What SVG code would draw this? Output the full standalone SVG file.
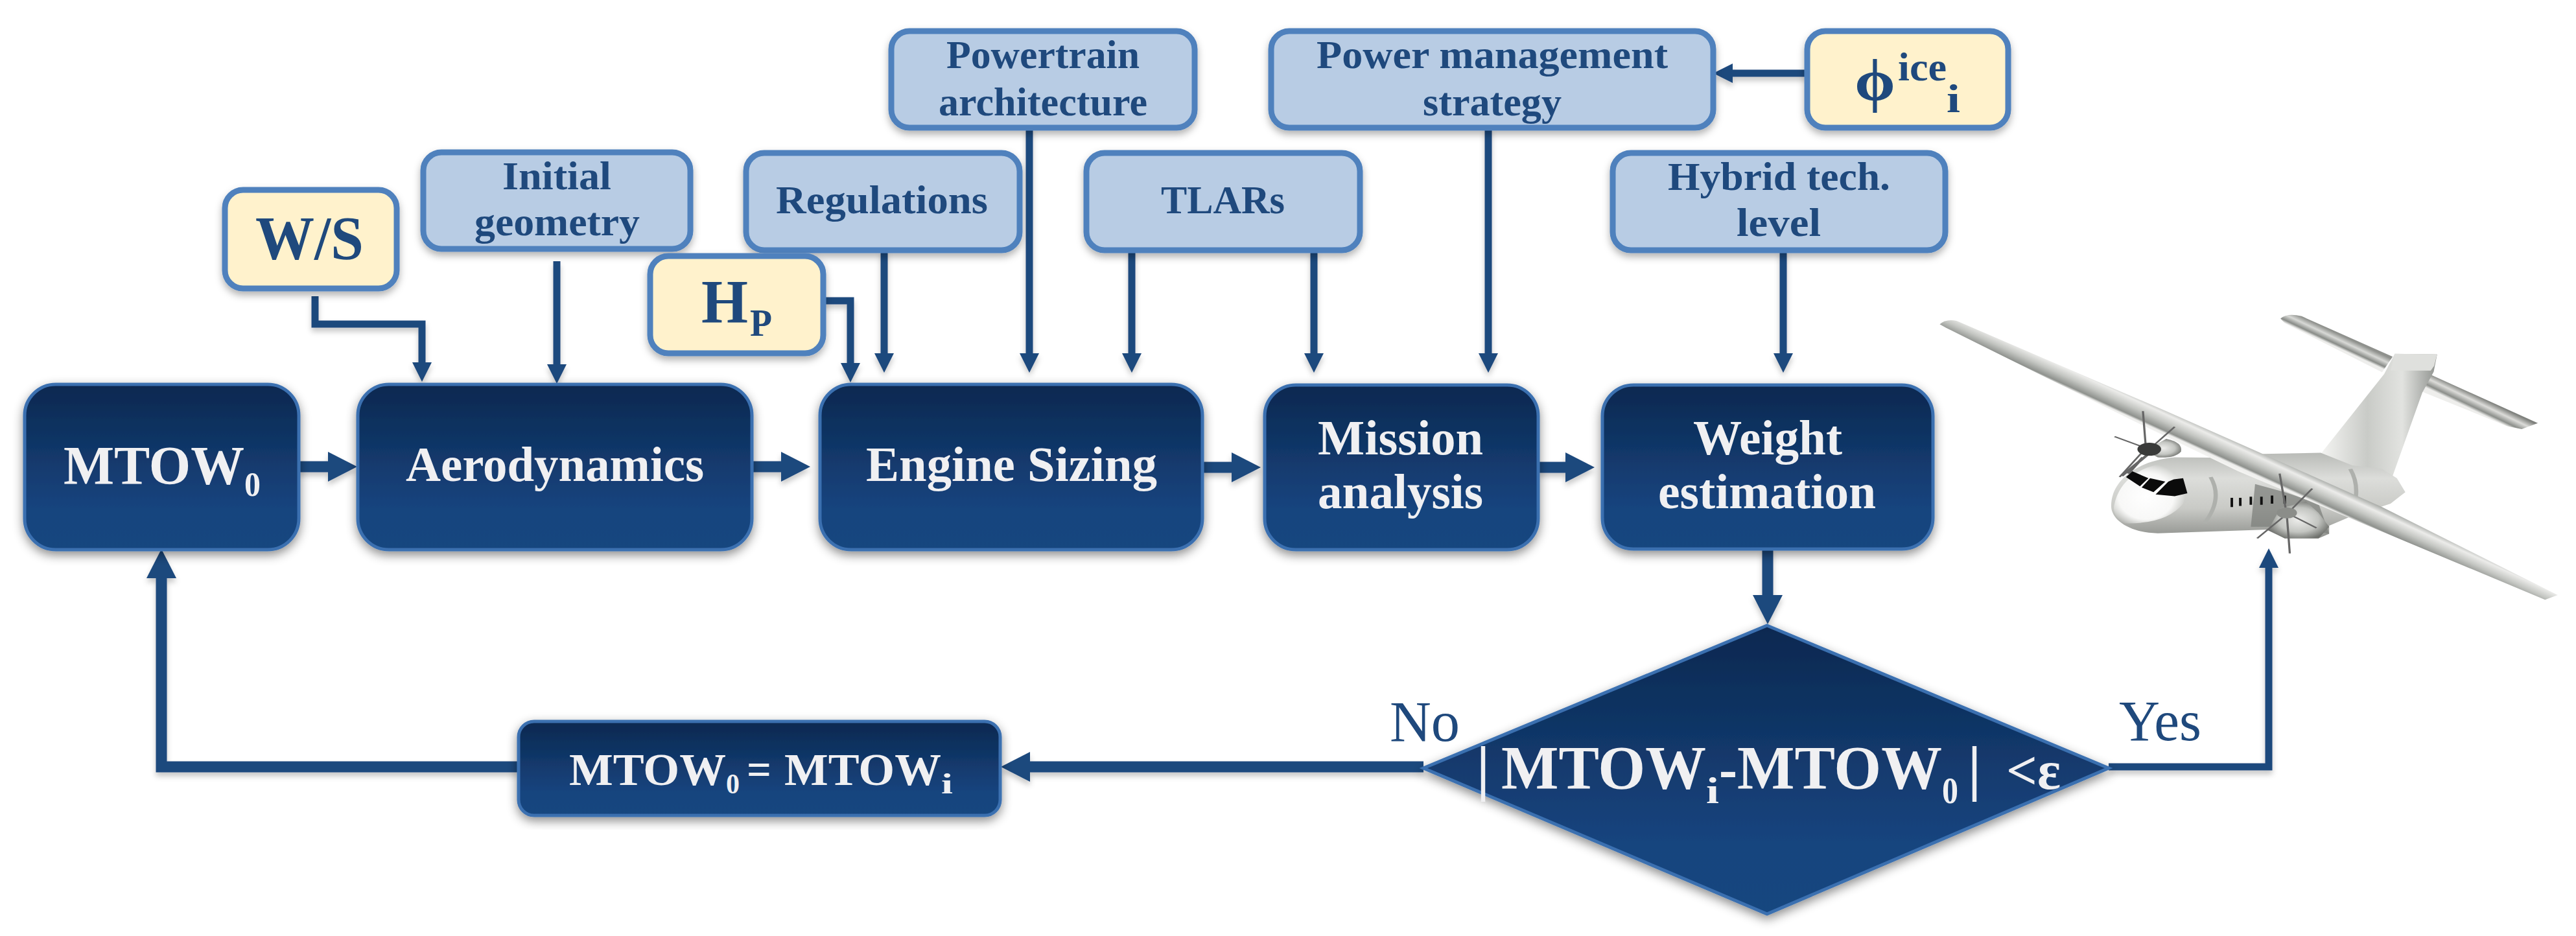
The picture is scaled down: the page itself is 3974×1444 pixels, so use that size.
<svg xmlns="http://www.w3.org/2000/svg" width="3974" height="1444" viewBox="0 0 3974 1444">
<style>
text{font-family:"Liberation Serif","Times New Roman",serif;font-weight:bold;text-anchor:start}
.dark{stroke:#3a6fb0;stroke-width:5;fill:url(#navy);filter:url(#sh)}
.blue{stroke:#4f81bd;stroke-width:9;fill:#b8cce4;filter:url(#sh2)}
.cream{stroke:#4f81bd;stroke-width:9;fill:#fff2cc;filter:url(#sh2)}
.w{fill:#f0f0f2}
.b{fill:#1f497d}
.t58{font-size:62px}
.t74{font-size:76px}
.thin{stroke:#1f497d;stroke-width:11;fill:none;marker-end:url(#hThin)}
.big{stroke:#1f497d;stroke-width:17;fill:none;marker-end:url(#hBig)}
.lbl{font-weight:normal;font-size:88px;fill:#1f497d}
</style>
<defs>
<linearGradient id="navy" x1="0" y1="0" x2="0" y2="1"><stop offset="0" stop-color="#0b2850"/><stop offset=".75" stop-color="#17447e"/><stop offset="1" stop-color="#18467f"/></linearGradient>
<filter id="sh" x="-10%" y="-15%" width="120%" height="130%"><feDropShadow dx="0" dy="6" stdDeviation="8" flood-color="#000" flood-opacity=".45"/></filter>
<filter id="sh2" x="-10%" y="-15%" width="120%" height="130%"><feDropShadow dx="0" dy="6" stdDeviation="6" flood-color="#000" flood-opacity=".3"/></filter>
<filter id="sh3" filterUnits="userSpaceOnUse" x="0" y="0" width="3974" height="1444"><feDropShadow dx="0" dy="6" stdDeviation="4" flood-color="#000" flood-opacity=".22"/></filter>
<marker id="hThin" markerUnits="userSpaceOnUse" markerWidth="32" markerHeight="32" refX="0" refY="15" orient="auto" overflow="visible"><path d="M0 0L30 15L0 30Z" fill="#1f497d"/></marker>
<marker id="hBig" markerUnits="userSpaceOnUse" markerWidth="48" markerHeight="48" refX="0" refY="23" orient="auto" overflow="visible"><path d="M0 0L45 23L0 46Z" fill="#1f497d"/></marker>
<linearGradient id="wing" gradientUnits="userSpaceOnUse" x1="763" y1="853" x2="827" y2="777"><stop offset="0" stop-color="#f5f5f3"/><stop offset=".14" stop-color="#eeeeec"/><stop offset=".22" stop-color="#8e918d"/><stop offset=".5" stop-color="#c4c6c2"/><stop offset=".78" stop-color="#ececea"/><stop offset="1" stop-color="#a9aca8"/></linearGradient>
<linearGradient id="tailL" gradientUnits="userSpaceOnUse" x1="975" y1="300" x2="1005" y2="265"><stop offset="0" stop-color="#eeeeec"/><stop offset=".2" stop-color="#888b87"/><stop offset=".6" stop-color="#d8d9d6"/><stop offset="1" stop-color="#8f918d"/></linearGradient>
<linearGradient id="tailR" gradientUnits="userSpaceOnUse" x1="1290" y1="565" x2="1325" y2="525"><stop offset="0" stop-color="#eeeeec"/><stop offset=".2" stop-color="#8b8e8a"/><stop offset=".6" stop-color="#dcdcd9"/><stop offset="1" stop-color="#7f817d"/></linearGradient>
<linearGradient id="fin" x1="0" y1="0" x2="1" y2="0"><stop offset="0" stop-color="#f4f4f2"/><stop offset=".4" stop-color="#c9cbc7"/><stop offset=".7" stop-color="#e2e3e0"/><stop offset="1" stop-color="#8f928e"/></linearGradient>
<linearGradient id="body" x1="0" y1="0" x2="0" y2="1"><stop offset="0" stop-color="#b9bbb7"/><stop offset=".3" stop-color="#dcddda"/><stop offset=".65" stop-color="#c9cac6"/><stop offset="1" stop-color="#8f918d"/></linearGradient>
<radialGradient id="nose" cx=".45" cy=".55" r=".55"><stop offset="0" stop-color="#fff"/><stop offset=".7" stop-color="#f8f8f7"/><stop offset="1" stop-color="#f8f8f7" stop-opacity="0"/></radialGradient>
<radialGradient id="nac" cx=".5" cy=".5" r=".55"><stop offset="0" stop-color="#ededeb"/><stop offset=".6" stop-color="#c3c5c1"/><stop offset="1" stop-color="#6f716d"/></radialGradient>
</defs>
<rect width="3974" height="1444" fill="#fff"/>

<g id="connectors" filter="url(#sh3)">
<path class="thin" d="M486 457V500H651V559"/>
<path class="thin" d="M859 403V562"/>
<path class="thin" d="M1270 464H1312V560"/>
<path class="thin" d="M1364 386V545"/>
<path class="thin" d="M1588 197V545"/>
<path class="thin" d="M1746 386V545"/>
<path class="thin" d="M2027 386V545"/>
<path class="thin" d="M2296 197V545"/>
<path class="thin" d="M2751 386V545"/>
<path class="thin" d="M2788 113H2673"/>
<path class="big" d="M460 720H506"/>
<path class="big" d="M1160 720H1205"/>
<path class="big" d="M1855 721H1900"/>
<path class="big" d="M2373 721H2415"/>
<path class="big" d="M2727 846V918"/>
<path class="big" d="M2196 1183H1589"/>
<path class="big" d="M800 1183H249V892"/>
<path class="thin" d="M3253 1183H3500V876"/>
</g>

<g id="n-ws"><rect class="cream" x="347" y="293" width="265" height="152" rx="28"/><text class="b" y="400"><tspan x="394" y="400" font-size="96" textLength="167" lengthAdjust="spacingAndGlyphs">W/S</tspan></text></g>
<g id="n-initial"><rect class="blue" x="653" y="235" width="412" height="149" rx="28"/><text class="b t58" x="775" y="292" textLength="168" lengthAdjust="spacingAndGlyphs">Initial</text><text class="b t58" x="732" y="363" textLength="255" lengthAdjust="spacingAndGlyphs">geometry</text></g>
<g id="n-regulations"><rect class="blue" x="1151" y="236" width="422" height="150" rx="28"/><text class="b t58" x="1197" y="329" textLength="327" lengthAdjust="spacingAndGlyphs">Regulations</text></g>
<g id="n-hp"><rect class="cream" x="1003" y="395" width="267" height="150" rx="28"/><text class="b"><tspan x="1082" y="498" font-size="96" textLength="72" lengthAdjust="spacingAndGlyphs">H</tspan><tspan x="1157" y="518" font-size="60" textLength="34" lengthAdjust="spacingAndGlyphs">P</tspan></text></g>
<g id="n-powertrain"><rect class="blue" x="1375" y="48" width="468" height="149" rx="28"/><text class="b t58" x="1460" y="105" textLength="298" lengthAdjust="spacingAndGlyphs">Powertrain</text><text class="b t58" x="1448" y="178" textLength="322" lengthAdjust="spacingAndGlyphs">architecture</text></g>
<g id="n-tlars"><rect class="blue" x="1676" y="236" width="422" height="150" rx="28"/><text class="b t58" x="1791" y="329" textLength="191" lengthAdjust="spacingAndGlyphs">TLARs</text></g>
<g id="n-power"><rect class="blue" x="1961" y="48" width="682" height="149" rx="28"/><text class="b t58" x="2031" y="105" textLength="542" lengthAdjust="spacingAndGlyphs">Power management</text><text class="b t58" x="2195" y="178" textLength="214" lengthAdjust="spacingAndGlyphs">strategy</text></g>
<g id="n-phi"><rect class="cream" x="2788" y="48" width="310" height="149" rx="28"/><text class="b"><tspan x="2861" y="155" font-size="92" textLength="63" lengthAdjust="spacingAndGlyphs">ϕ</tspan><tspan x="2928" y="124" font-size="62" textLength="75" lengthAdjust="spacingAndGlyphs">ice</tspan><tspan x="3003" y="173" font-size="62" textLength="21" lengthAdjust="spacingAndGlyphs">i</tspan></text></g>
<g id="n-hybrid"><rect class="blue" x="2488" y="236" width="513" height="150" rx="28"/><text class="b t58" x="2573" y="293" textLength="343" lengthAdjust="spacingAndGlyphs">Hybrid tech.</text><text class="b t58" x="2679" y="364" textLength="130" lengthAdjust="spacingAndGlyphs">level</text></g>

<g id="n-mtow0"><rect class="dark" x="38" y="593" width="423" height="255" rx="48"/><text class="w"><tspan x="98" y="747" font-size="84" textLength="279" lengthAdjust="spacingAndGlyphs">MTOW</tspan><tspan x="377" y="765" font-size="52" textLength="25" lengthAdjust="spacingAndGlyphs">0</tspan></text></g>
<g id="n-aero"><rect class="dark" x="552" y="593" width="608" height="255" rx="48"/><text class="w t74" x="626" y="742" textLength="460" lengthAdjust="spacingAndGlyphs">Aerodynamics</text></g>
<g id="n-engine"><rect class="dark" x="1265" y="593" width="590" height="255" rx="48"/><text class="w t74" x="1336" y="742" textLength="449" lengthAdjust="spacingAndGlyphs">Engine Sizing</text></g>
<g id="n-mission"><rect class="dark" x="1951" y="594" width="422" height="254" rx="48"/><text class="w t74" x="2033" y="701" textLength="255" lengthAdjust="spacingAndGlyphs">Mission</text><text class="w t74" x="2033" y="784" textLength="255" lengthAdjust="spacingAndGlyphs">analysis</text></g>
<g id="n-weight"><rect class="dark" x="2472" y="594" width="510" height="253" rx="48"/><text class="w t74" x="2612" y="701" textLength="230" lengthAdjust="spacingAndGlyphs">Weight</text><text class="w t74" x="2558" y="784" textLength="336" lengthAdjust="spacingAndGlyphs">estimation</text></g>
<g id="n-update"><rect class="dark" x="800" y="1113" width="743" height="145" rx="24"/><text class="w"><tspan x="878" y="1211" font-size="70" textLength="242" lengthAdjust="spacingAndGlyphs">MTOW</tspan><tspan x="1120" y="1224" font-size="44" textLength="21" lengthAdjust="spacingAndGlyphs">0</tspan><tspan x="1152" y="1211" font-size="70" textLength="38" lengthAdjust="spacingAndGlyphs">=</tspan><tspan x="1210" y="1211" font-size="70" textLength="242" lengthAdjust="spacingAndGlyphs">MTOW</tspan><tspan x="1452" y="1224" font-size="44" textLength="18" lengthAdjust="spacingAndGlyphs">i</tspan></text></g>
<g id="n-decision"><path class="dark" stroke-width="4" d="M2726 965L3253 1185L2726 1410L2196 1185Z"/><text class="w"><tspan x="2278" y="1217" font-size="96" textLength="20" lengthAdjust="spacingAndGlyphs">|</tspan><tspan x="2316" y="1217" font-size="96" textLength="316" lengthAdjust="spacingAndGlyphs">MTOW</tspan><tspan x="2632" y="1239" font-size="56" textLength="20" lengthAdjust="spacingAndGlyphs">i</tspan><tspan x="2652" y="1217" font-size="96" textLength="28" lengthAdjust="spacingAndGlyphs">-</tspan><tspan x="2680" y="1217" font-size="96" textLength="316" lengthAdjust="spacingAndGlyphs">MTOW</tspan><tspan x="2996" y="1239" font-size="56" textLength="25" lengthAdjust="spacingAndGlyphs">0</tspan><tspan x="3036" y="1217" font-size="96" textLength="20" lengthAdjust="spacingAndGlyphs">|</tspan><tspan x="3095" y="1217" font-size="84" textLength="84" lengthAdjust="spacingAndGlyphs">&lt;ε</tspan></text></g>

<text class="lbl" x="2144" y="1143" textLength="108" lengthAdjust="spacingAndGlyphs">No</text>
<text class="lbl" x="3269" y="1142" textLength="127" lengthAdjust="spacingAndGlyphs">Yes</text>

<g id="aircraft" transform="translate(2950 420) scale(.653 .357)">
<path fill="url(#tailL)" d="M870 200Q885 175 920 190L1135 365L1110 432L880 220Z"/>
<path fill="url(#tailR)" d="M1135 425Q1170 415 1212 432L1478 652L1440 678L1405 665L1210 520L1135 450Z"/>
<path fill="url(#fin)" d="M965 785L1115 440L1140 352L1240 355L1232 430L1205 520L1135 880L1040 840Z"/>
<path fill="#dfe0dd" d="M1140 352L1240 355L1233 405L1225 425L1130 425Z"/>
<path fill="url(#nac)" d="M600 720Q640 735 635 775Q620 805 580 800L550 770Z"/>
<path fill="url(#body)" d="M470 1010C470 900 530 815 620 800L750 802L830 785L965 780L1040 835L1110 850L1145 890L1165 950L1130 1000L1030 1060L985 1095L985 1130L960 1150L880 1150L840 1112L580 1128C520 1128 470 1075 470 1010Z"/>
<path fill="url(#nose)" d="M478 1000C490 900 540 830 610 825Q660 900 640 1000Q600 1090 500 1085Q470 1050 478 1000Z"/>
<path fill="#7e807c" d="M810 915L880 950L960 1000L985 1130L900 1100L800 1100Z" opacity=".75"/>
<path fill="none" stroke="#aeb0ac" stroke-width="10" d="M705 885Q735 980 690 1085M1035 850Q1060 930 1040 1030"/>
<path fill="#0b0b0b" d="M505 885L520 860L558 890L538 925ZM542 930L562 890L598 905L570 950ZM575 960L605 905L618 895L640 890L650 955L620 968Z"/>
<path stroke="#111" stroke-width="6" d="M755 975V1015M775 975V1010M800 970V1005M825 970V1005M850 965V1000M880 965V1000"/>
<path fill="url(#nac)" d="M870 1020L930 990L960 1040L985 1100L960 1150L880 1150L840 1115Z"/>
<path fill="url(#wing)" d="M65 225Q80 200 105 210L600 600L810 770L1110 1015L1525 1395L1495 1415L1050 1075L770 860L520 640L80 240Z"/>
<g stroke="#666" fill="none">
<path stroke-width="5" d="M545 600L552 760L490 885M478 710L560 765L620 668"/>
<path stroke-width="8" d="M555 790L495 880M545 800L510 870"/>
<path stroke-width="5" d="M868 870L885 1050L892 1215M815 1150L885 1045L945 935M885 1040L955 1105"/>
</g>
<circle cx="560" cy="765" r="28" fill="#3a3b3a"/>
<circle cx="885" cy="1040" r="24" fill="#8b8d89"/>
</g>
</svg>
